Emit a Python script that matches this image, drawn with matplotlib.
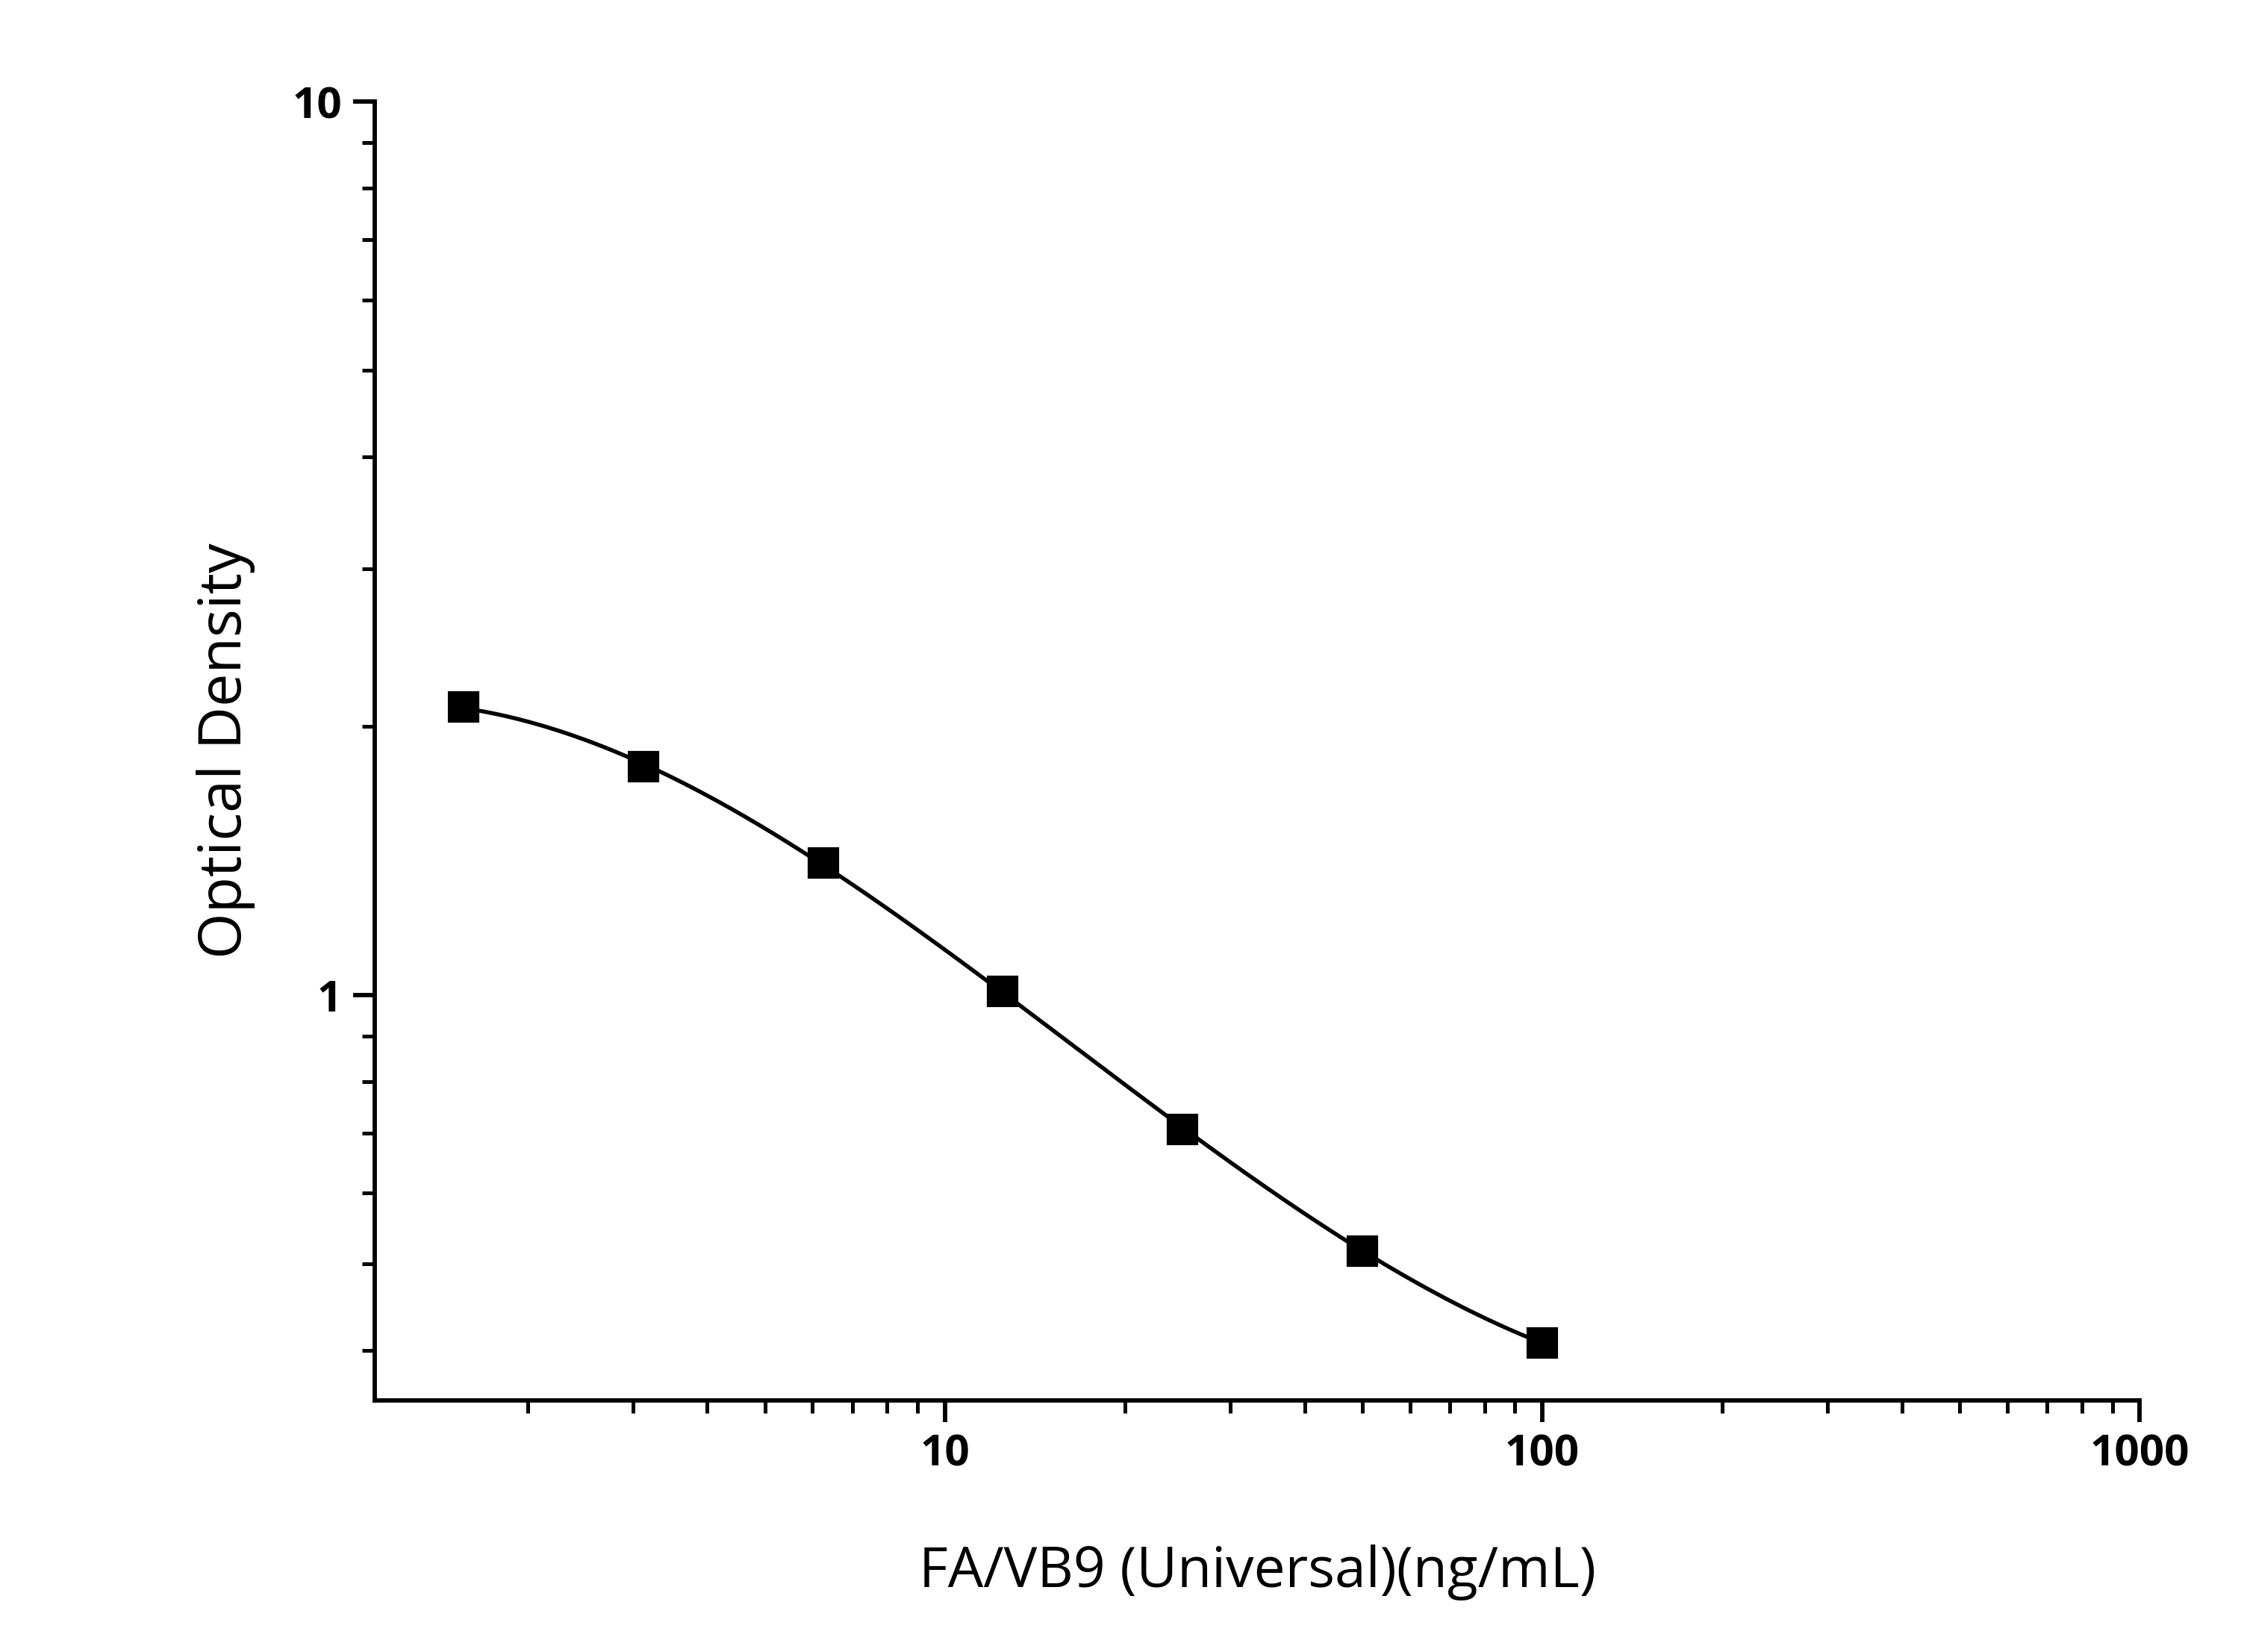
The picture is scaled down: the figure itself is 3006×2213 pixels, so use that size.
import numpy as np
import matplotlib
matplotlib.use("Agg")
import matplotlib.pyplot as plt
from matplotlib.ticker import LogLocator, NullFormatter, FixedLocator

conc = [1.5625, 3.125, 6.25, 12.5, 25, 50, 100]
od = [2.10, 1.80, 1.405, 1.01, 0.707, 0.517, 0.408]
xticks = [10, 100, 1000]
xticklabels = ["10", "100", "1000"]
yticks = [1, 10]
yticklabels = ["1", "10"]

plt.rcParams['font.family'] = ['Open Sans', 'DejaVu Sans']
fig = plt.figure(figsize=(10.02, 7.377), dpi=300)
ax = fig.add_axes([0.167, 0.1525, 0.7865, 0.786])

lx = np.log10(conc); ly = np.log10(od)
c = np.polyfit(lx, ly, 3)
xs = np.linspace(lx[0], lx[-1], 300)
ax.plot(10**xs, 10**np.polyval(c, xs), color='black', lw=1.3)
ax.plot(conc, od, 's', color='black', ms=9)

ax.set_xscale('log'); ax.set_yscale('log')
ax.set_xlim(1.11, 1000); ax.set_ylim(0.352, 10)
ax.xaxis.set_major_locator(FixedLocator(xticks))
ax.set_xticklabels(xticklabels)
ax.yaxis.set_major_locator(FixedLocator(yticks))
ax.set_yticklabels(yticklabels)
for a in (ax.xaxis, ax.yaxis):
    a.set_minor_locator(LogLocator(base=10, subs=np.arange(2, 10), numticks=20))
    a.set_minor_formatter(NullFormatter())
for s in ['top', 'right']:
    ax.spines[s].set_visible(False)
for s in ['left', 'bottom']:
    ax.spines[s].set_linewidth(1.4)
ax.tick_params(which='major', direction='out', length=7, width=1.4, labelsize=14)
ax.tick_params(which='minor', direction='out', length=4, width=1.2)
for lab in ax.get_xticklabels() + ax.get_yticklabels():
    lab.set_fontweight('bold')
ax.set_xlabel("FA/VB9 (Universal)(ng/mL)", fontsize=18, labelpad=22)
ax.set_ylabel("Optical Density", fontsize=19, labelpad=12)
fig.savefig("out.png", dpi=300)
